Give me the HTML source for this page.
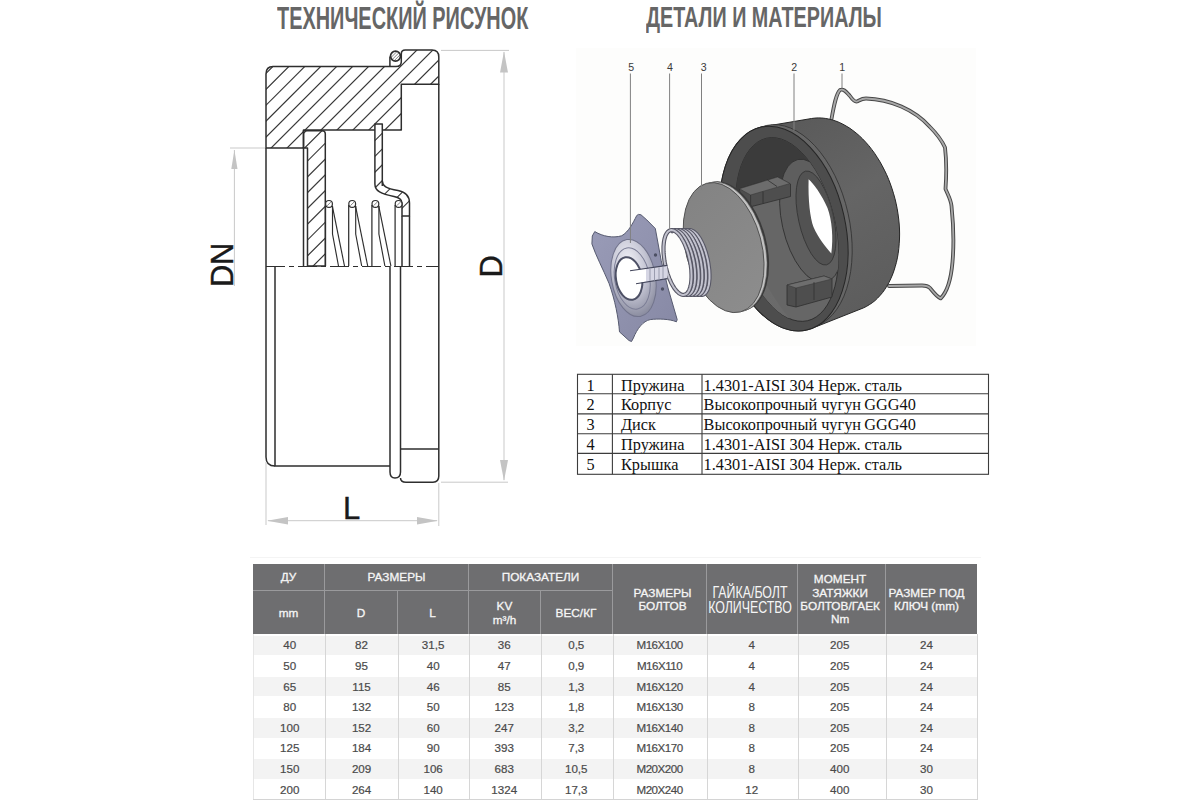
<!DOCTYPE html>
<html><head><meta charset="utf-8">
<style>
html,body{margin:0;padding:0;background:#fff;}
body{width:1200px;height:800px;position:relative;overflow:hidden;font-family:"Liberation Sans",sans-serif;}
.title{position:absolute;font-family:"Liberation Sans",sans-serif;font-weight:bold;color:#666;font-size:30px;white-space:nowrap;transform-origin:0 0;line-height:1;}
svg.full{position:absolute;left:0;top:0;}
.pt{position:absolute;left:577.5px;width:411px;font-family:"Liberation Serif",serif;font-size:16.3px;color:#111;}
.pt span{position:absolute;top:1.5px;white-space:nowrap;}
.ptbox{position:absolute;left:577.5px;top:374.3px;width:411px;height:100px;}
.srow{position:absolute;left:253px;width:724px;}
.sc{position:absolute;text-align:center;font-size:11.6px;color:#4a4a4a;-webkit-text-stroke:0.2px #4a4a4a;white-space:nowrap;}
.vl{position:absolute;width:1px;background:#d6d6d6;}
.hd{position:absolute;background:#6e6e70;left:253px;top:564px;width:724px;height:70px;}
.hc{position:absolute;text-align:center;color:#f6f6f6;-webkit-text-stroke:0.3px #f6f6f6;font-size:11.8px;line-height:13.4px;display:flex;align-items:center;justify-content:center;box-sizing:border-box;padding-top:2px;}
.hv{position:absolute;width:1px;background:#9a9a9c;}
.hh{position:absolute;height:1px;background:#9a9a9c;}
</style></head><body>
<div class="title" style="left:277px;top:3px;font-size:31px;transform:scaleX(0.642)">ТЕХНИЧЕСКИЙ РИСУНОК</div>
<div class="title" style="left:645.5px;top:2px;transform:scaleX(0.6585)">ДЕТАЛИ И МАТЕРИАЛЫ</div>
<div style="position:absolute;left:576px;top:48px;width:400px;height:298px;background:#fdfdfc"></div>
<svg class="full" width="1200" height="800" viewBox="0 0 1200 800">
<defs>
<clipPath id="cb"><path d="M266 148 L266 74 Q266 66.6 273 66.6 L396 66.6 Q401.3 66.6 401.3 61.8 L401.3 54 Q401.3 50.1 405.2 50.1 L432 50.1 Q438.8 50.1 438.8 57 L438.8 84.2 L401.3 84.2 L401.3 130 L303.5 130 L303.5 148 Z"/></clipPath>
<clipPath id="cd"><path d="M303.5 130.8 L322 130.8 Q325.3 130.8 325.3 134 L325.3 266 L307.5 266 L307.5 148 L303.5 148 Z"/></clipPath>
<clipPath id="cp"><path d="M374.9 123.9 L382.3 123.9 L382.3 181 C382.5 186 386 188.5 398 190.5 C406 192 409.5 196 409.5 203 L409.5 216.1 L402 216.1 L402 203 C402 199 399 197.5 394 196.5 C381 194 374.9 191 374.9 184 Z"/></clipPath>
<clipPath id="co"><circle cx="395.5" cy="56.1" r="5"/></clipPath>
</defs>
<path d="M123.55 152.00L232.55 43.00M139.50 152.00L248.50 43.00M155.45 152.00L264.45 43.00M171.40 152.00L280.40 43.00M187.35 152.00L296.35 43.00M203.30 152.00L312.30 43.00M219.25 152.00L328.25 43.00M235.20 152.00L344.20 43.00M251.15 152.00L360.15 43.00M267.10 152.00L376.10 43.00M283.05 152.00L392.05 43.00M299.00 152.00L408.00 43.00M314.95 152.00L423.95 43.00M330.90 152.00L439.90 43.00M346.85 152.00L455.85 43.00M362.80 152.00L471.80 43.00M378.75 152.00L487.75 43.00M394.70 152.00L503.70 43.00M410.65 152.00L519.65 43.00M426.60 152.00L535.60 43.00M442.55 152.00L551.55 43.00M458.50 152.00L567.50 43.00M474.45 152.00L583.45 43.00" clip-path="url(#cb)" stroke="#3a3a3a" stroke-width="1.2" fill="none"/>
<path d="M133.30 272.00L279.30 126.00M149.10 272.00L295.10 126.00M164.90 272.00L310.90 126.00M180.70 272.00L326.70 126.00M196.50 272.00L342.50 126.00M212.30 272.00L358.30 126.00M228.10 272.00L374.10 126.00M243.90 272.00L389.90 126.00M259.70 272.00L405.70 126.00M275.50 272.00L421.50 126.00M291.30 272.00L437.30 126.00M307.10 272.00L453.10 126.00M322.90 272.00L468.90 126.00M338.70 272.00L484.70 126.00M354.50 272.00L500.50 126.00" clip-path="url(#cd)" stroke="#3a3a3a" stroke-width="1.2" fill="none"/>
<path d="M366.50 66.00L386.50 46.00M369.70 66.00L389.70 46.00M372.90 66.00L392.90 46.00M376.10 66.00L396.10 46.00M379.30 66.00L399.30 46.00M382.50 66.00L402.50 46.00M385.70 66.00L405.70 46.00M388.90 66.00L408.90 46.00M392.10 66.00L412.10 46.00M395.30 66.00L415.30 46.00M398.50 66.00L418.50 46.00M401.70 66.00L421.70 46.00M404.90 66.00L424.90 46.00M408.10 66.00L428.10 46.00" clip-path="url(#co)" stroke="#2e2e2e" stroke-width="0.6" fill="none"/>
<path d="M266 148 L266 74 Q266 66.6 273 66.6 L396 66.6 Q401.3 66.6 401.3 61.8 L401.3 54 Q401.3 50.1 405.2 50.1 L432 50.1 Q438.8 50.1 438.8 57 L438.8 84.2 L401.3 84.2 L401.3 130 L303.5 130 L303.5 148 Z" fill="none" stroke="#2e2e2e" stroke-width="1.5" stroke-linejoin="round"/>
<path d="M303.5 130.8 L322 130.8 Q325.3 130.8 325.3 134 L325.3 266 L307.5 266 L307.5 148 L303.5 148 Z" fill="none" stroke="#2e2e2e" stroke-width="1.5" stroke-linejoin="round"/>
<circle cx="395.5" cy="56.1" r="5" fill="none" stroke="#2e2e2e" stroke-width="1.7"/>
<path d="M389.9 56.4 L389.9 66.6" fill="none" stroke="#2e2e2e" stroke-width="1.5" stroke-linejoin="round"/>
<path d="M374.9 123.9 L382.3 123.9 L382.3 181 C382.5 186 386 188.5 398 190.5 C406 192 409.5 196 409.5 203 L409.5 216.1 L402 216.1 L402 203 C402 199 399 197.5 394 196.5 C381 194 374.9 191 374.9 184 Z" fill="#fff"/>
<path d="M246.10 222.00L350.10 118.00M261.90 222.00L365.90 118.00M277.70 222.00L381.70 118.00M293.50 222.00L397.50 118.00M309.30 222.00L413.30 118.00M325.10 222.00L429.10 118.00M340.90 222.00L444.90 118.00M356.70 222.00L460.70 118.00M372.50 222.00L476.50 118.00M388.30 222.00L492.30 118.00M404.10 222.00L508.10 118.00M419.90 222.00L523.90 118.00M435.70 222.00L539.70 118.00" clip-path="url(#cp)" stroke="#3a3a3a" stroke-width="1.1" fill="none"/>
<path d="M374.9 123.9 L382.3 123.9 L382.3 181 C382.5 186 386 188.5 398 190.5 C406 192 409.5 196 409.5 203 L409.5 216.1 L402 216.1 L402 203 C402 199 399 197.5 394 196.5 C381 194 374.9 191 374.9 184 Z" fill="none" stroke="#2e2e2e" stroke-width="1.5" stroke-linejoin="round"/>
<path d="M266 148 L266 457 Q266 466 275 466" fill="none" stroke="#2e2e2e" stroke-width="1.5" stroke-linejoin="round"/>
<path d="M275 266 L275 466 L390 466" fill="none" stroke="#2e2e2e" stroke-width="1.5" stroke-linejoin="round"/>
<path d="M390 266 L390 472 Q390 478 395 478 Q400.5 478 400.5 472 L400.5 266" fill="none" stroke="#2e2e2e" stroke-width="1.5" stroke-linejoin="round"/>
<path d="M400.5 478 Q400.5 482.2 406 482.2 L433 482.2 Q438.8 482.2 438.8 476 L438.8 84" fill="none" stroke="#2e2e2e" stroke-width="1.5" stroke-linejoin="round"/>
<path d="M400.8 449 L438.8 449" fill="none" stroke="#2e2e2e" stroke-width="1.5" stroke-linejoin="round"/>
<path d="M303.5 148 L303.5 266" fill="none" stroke="#2e2e2e" stroke-width="1.5" stroke-linejoin="round"/>
<path d="M382.3 181 L382.3 186" fill="none" stroke="#2e2e2e" stroke-width="1.5" stroke-linejoin="round"/>
<path d="M402 216.1 L402 266" fill="none" stroke="#2e2e2e" stroke-width="1.5" stroke-linejoin="round"/>
<path d="M409.5 216.1 L409.5 266" fill="none" stroke="#2e2e2e" stroke-width="1.5" stroke-linejoin="round"/>
<line x1="325.5" y1="204.9" x2="325.5" y2="266" stroke="#2e2e2e" stroke-width="1.25"/>
<path d="M332.5 205.9 L332.5 234 L338.5 266" fill="none" stroke="#2e2e2e" stroke-width="1.15"/>
<line x1="332.3" y1="205.9" x2="344.5" y2="266" stroke="#2e2e2e" stroke-width="1.15"/>
<circle cx="329" cy="203.9" r="3.4" fill="#fff" stroke="#2e2e2e" stroke-width="1.2"/>
<line x1="327.2" y1="205.70000000000002" x2="330.8" y2="202.1" stroke="#2e2e2e" stroke-width="0.6"/>
<line x1="348.7" y1="204.9" x2="348.7" y2="266" stroke="#2e2e2e" stroke-width="1.25"/>
<path d="M355.7 205.9 L355.7 234 L361.7 266" fill="none" stroke="#2e2e2e" stroke-width="1.15"/>
<line x1="355.5" y1="205.9" x2="367.7" y2="266" stroke="#2e2e2e" stroke-width="1.15"/>
<circle cx="352.2" cy="203.9" r="3.4" fill="#fff" stroke="#2e2e2e" stroke-width="1.2"/>
<line x1="350.4" y1="205.70000000000002" x2="354.0" y2="202.1" stroke="#2e2e2e" stroke-width="0.6"/>
<line x1="371.9" y1="204.9" x2="371.9" y2="266" stroke="#2e2e2e" stroke-width="1.25"/>
<path d="M378.9 205.9 L378.9 234 L384.9 266" fill="none" stroke="#2e2e2e" stroke-width="1.15"/>
<line x1="378.7" y1="205.9" x2="390.9" y2="266" stroke="#2e2e2e" stroke-width="1.15"/>
<circle cx="375.4" cy="203.9" r="3.4" fill="#fff" stroke="#2e2e2e" stroke-width="1.2"/>
<line x1="373.59999999999997" y1="205.70000000000002" x2="377.2" y2="202.1" stroke="#2e2e2e" stroke-width="0.6"/>
<line x1="395.1" y1="204.9" x2="395.1" y2="266" stroke="#2e2e2e" stroke-width="1.25"/>
<circle cx="398.6" cy="203.9" r="3.4" fill="#fff" stroke="#2e2e2e" stroke-width="1.2"/>
<line x1="396.8" y1="205.70000000000002" x2="400.40000000000003" y2="202.1" stroke="#2e2e2e" stroke-width="0.6"/>
<line x1="266" y1="266.5" x2="439" y2="266.5" stroke="#2e2e2e" stroke-width="1.2" stroke-dasharray="19 4 5 4"/>
<path d="M230 148 L265 148" stroke="#c9c9c9" stroke-width="1" fill="none"/>
<path d="M234.4 150 L234.4 286" stroke="#c9c9c9" stroke-width="1" fill="none"/>
<path d="M441 50.4 L509 50.4" stroke="#c9c9c9" stroke-width="1" fill="none"/>
<path d="M441 482.2 L508 482.2" stroke="#c9c9c9" stroke-width="1" fill="none"/>
<path d="M504 52 L504 480" stroke="#c9c9c9" stroke-width="1" fill="none"/>
<path d="M266 462 L266 525" stroke="#c9c9c9" stroke-width="1" fill="none"/>
<path d="M438.8 483 L438.8 526" stroke="#c9c9c9" stroke-width="1" fill="none"/>
<path d="M268 520.7 L437 520.7" stroke="#c9c9c9" stroke-width="1" fill="none"/>
<path d="M234.4 150 L231.3 169 L237.5 169 Z" fill="#c4c4c4"/>
<path d="M504 51.5 L500 72.5 L508 72.5 Z" fill="#c4c4c4"/>
<path d="M504 481 L500 460 L508 460 Z" fill="#c4c4c4"/>
<path d="M267 520.7 L288 517 L288 524.4 Z" fill="#c4c4c4"/>
<path d="M438 520.7 L417 517 L417 524.4 Z" fill="#c4c4c4"/>
<text x="343" y="519" font-family="Liberation Sans" font-size="31" fill="#1a1a1a" stroke="#1a1a1a" stroke-width="0.4">L</text>
<text transform="translate(233.3 287) rotate(-90)" font-family="Liberation Sans" font-size="31" fill="#1a1a1a" stroke="#1a1a1a" stroke-width="0.4" letter-spacing="-0.5">DN</text>
<text transform="translate(501.8 277.5) rotate(-90)" font-family="Liberation Sans" font-size="31" fill="#1a1a1a" stroke="#1a1a1a" stroke-width="0.4">D</text>
<defs>
<linearGradient id="gbody" gradientUnits="userSpaceOnUse" x1="790" y1="120" x2="900" y2="300">
 <stop offset="0" stop-color="#5a5a5a"/><stop offset="0.45" stop-color="#656565"/><stop offset="1" stop-color="#5c5c5c"/>
</linearGradient>
<linearGradient id="gdisc" gradientUnits="userSpaceOnUse" x1="690" y1="190" x2="760" y2="310">
 <stop offset="0" stop-color="#838383"/><stop offset="1" stop-color="#8d8d8d"/>
</linearGradient>
<linearGradient id="gstar" x1="0" y1="0" x2="1" y2="1">
 <stop offset="0" stop-color="#9a9cb8"/><stop offset="1" stop-color="#8688a4"/>
</linearGradient>
<radialGradient id="gring" cx="0.45" cy="0.3" r="0.7">
 <stop offset="0" stop-color="#f2f2f8"/><stop offset="0.6" stop-color="#c0c1d0"/><stop offset="1" stop-color="#8a8c9f"/>
</radialGradient>
<linearGradient id="glow" gradientUnits="userSpaceOnUse" x1="750" y1="240" x2="820" y2="320">
 <stop offset="0" stop-color="#6e6e6e"/><stop offset="1" stop-color="#686868"/>
</linearGradient>
<clipPath id="copen"><ellipse cx="787" cy="229.5" rx="48.5" ry="93.5" transform="rotate(-12.6 787 229.5)" /></clipPath>
</defs>
<path d="M831.5 119 C834 105 836 94 840 90 C844 88 847 93 850 96 C852 99 854 102 857 101.5 C860 100 862 98.5 866 98.5 C890 99 915 110 930 127 C937 134 942 141 945 147.5 C946.5 160 946.5 175 945.5 189 C948 195 951 200 951.5 206 C953.5 225 954 245 952.5 262 C951 280 947 292 940.7 298.4 C937 297 934 293 930 288 C928 286 926 285.5 922 285.5 L889 286" fill="none" stroke="#484848" stroke-width="3.8" stroke-linecap="round" stroke-linejoin="round"/>
<path d="M831.5 119 C834 105 836 94 840 90 C844 88 847 93 850 96 C852 99 854 102 857 101.5 C860 100 862 98.5 866 98.5 C890 99 915 110 930 127 C937 134 942 141 945 147.5 C946.5 160 946.5 175 945.5 189 C948 195 951 200 951.5 206 C953.5 225 954 245 952.5 262 C951 280 947 292 940.7 298.4 C937 297 934 293 930 288 C928 286 926 285.5 922 285.5 L889 286" fill="none" stroke="#a8a8a8" stroke-width="1.8" stroke-linecap="round" stroke-linejoin="round"/>
<path d="M863.2 308.0 L812.6 328.1 L809.6 329.3 L806.5 330.1 L803.3 330.7 L800.1 330.9 L796.8 330.9 L793.5 330.7 L790.2 330.1 L786.8 329.3 L783.5 328.2 L780.1 326.8 L776.8 325.1 L773.4 323.2 L770.1 321.0 L766.9 318.6 L763.7 315.9 L760.5 313.0 L757.4 309.9 L754.4 306.5 L751.4 302.9 L748.6 299.1 L745.8 295.1 L743.2 291.0 L740.6 286.6 L738.2 282.1 L735.9 277.5 L733.7 272.7 L731.7 267.8 L729.8 262.8 L728.1 257.7 L726.5 252.6 L725.1 247.3 L723.8 242.0 L722.7 236.7 L721.7 231.3 L721.0 226.0 L720.4 220.6 L720.0 215.3 L719.7 210.0 L719.6 204.8 L719.7 199.6 L720.0 194.5 L720.5 189.5 L721.1 184.6 L721.9 179.8 L722.9 175.2 L724.0 170.7 L725.3 166.3 L726.8 162.2 L728.4 158.2 L730.2 154.4 L732.1 150.8 L734.1 147.4 L736.3 144.3 L738.7 141.3 L741.1 138.7 L743.7 136.2 L746.4 134.0 L749.1 132.1 L752.0 130.5 L755.0 129.1 L758.0 127.9 L761.1 127.1 L764.3 126.5 L811.5 118.5 L814.8 118.1 L818.2 117.9 L821.7 118.0 L825.2 118.4 L828.7 119.0 L832.2 119.9 L835.7 121.0 L839.2 122.4 L842.7 124.1 L846.1 126.0 L849.6 128.1 L852.9 130.5 L856.2 133.1 L859.5 135.9 L862.7 139.0 L865.8 142.3 L868.8 145.7 L871.7 149.4 L874.5 153.2 L877.1 157.2 L879.7 161.3 L882.1 165.6 L884.4 170.1 L886.6 174.6 L888.6 179.3 L890.4 184.0 L892.1 188.9 L893.6 193.8 L895.0 198.8 L896.2 203.8 L897.2 208.8 L898.0 213.9 L898.7 219.0 L899.2 224.0 L899.5 229.0 L899.6 234.0 L899.5 239.0 L899.2 243.8 L898.8 248.6 L898.2 253.3 L897.4 257.9 L896.4 262.4 L895.2 266.7 L893.9 270.9 L892.4 275.0 L890.7 278.9 L888.9 282.6 L886.9 286.1 L884.8 289.4 L882.6 292.5 L880.1 295.4 L877.6 298.1 L875.0 300.6 L872.2 302.8 L869.3 304.7 L866.3 306.5Z" fill="url(#gbody)" stroke="#262626" stroke-width="1"/>
<ellipse cx="789" cy="226.5" rx="60.5" ry="103.5" transform="rotate(-12.6 789 226.5)" fill="#666" stroke="#333" stroke-width="0.8"/>
<ellipse cx="783.8" cy="228.6" rx="61.5" ry="104" transform="rotate(-12.6 783.8 228.6)" fill="#4d4d4d" stroke="#262626" stroke-width="1"/>
<ellipse cx="787" cy="229.5" rx="48.5" ry="93.5" transform="rotate(-12.6 787 229.5)" fill="#666" stroke="#2a2a2a" stroke-width="0.8"/>
<g clip-path="url(#copen)">
<path d="M700 120 L850 120 L850 172 L800 178 L760 186 L735 198 L715 215 L700 230 Z" fill="#3b3b3b"/>
<path d="M735 198 C745 250 770 300 800 330 L760 340 L720 330 L712 220 Z" fill="url(#glow)"/>
<ellipse cx="811.5" cy="221" rx="29.5" ry="63" transform="rotate(-12.6 811.5 221)" fill="#5e5e5e" stroke="#333" stroke-width="0.9"/>
<ellipse cx="816" cy="218" rx="17.5" ry="48" transform="rotate(-12.6 816 218)" fill="#525252" stroke="#383838" stroke-width="0.9"/>
<path d="M808.6 179.3 C813 183 822 195 827.5 208 C832 220 833.5 238 831.3 253.5 C826 247 818 238 813.5 227 C810 218 808 200 808.6 179.3 Z" fill="#ffffff"/>
</g>
<path d="M739.4 188.75 L777.5 177 L788.75 183 L790.5 184 L790.5 196.5 L750.6 206.8 L741 200.5 Z" fill="#4e4e4e" stroke="#2e2e2e" stroke-width="0.8"/>
<path d="M739.4 188.75 L777.5 177 L790 183.5 L750.6 195 Z" fill="#6c6c6c" stroke="#3a3a3a" stroke-width="0.6"/>
<path d="M763 191.5 L763 203.5 M767.5 180 L777 186.5" stroke="#2e2e2e" stroke-width="0.8" fill="none"/>
<path d="M750.6 195 L750.6 206.8" stroke="#2e2e2e" stroke-width="0.7"/>
<path d="M787 285 L824 276 L832 279 L832 297 L796 307 L787 305 Z" fill="#4e4e4e" stroke="#2e2e2e" stroke-width="0.8"/>
<path d="M787 285 L824 276 L832 279 L796 288 Z" fill="#6e6e6e" stroke="#3a3a3a" stroke-width="0.6"/>
<line x1="814" y1="282" x2="814" y2="300" stroke="#2e2e2e" stroke-width="0.7"/>
<line x1="796" y1="288" x2="796" y2="307" stroke="#2e2e2e" stroke-width="0.7"/>
<ellipse cx="728.6" cy="246.4" rx="38" ry="66.5" transform="rotate(-14.8 728.6 246.4)" fill="#3a3a3a"/>
<ellipse cx="726.6" cy="246.9" rx="38" ry="66.5" transform="rotate(-14.8 726.6 246.9)" fill="#c2c2c2" stroke="#555" stroke-width="0.5"/>
<ellipse cx="723.6" cy="247.6" rx="38" ry="66.5" transform="rotate(-14.8 723.6 247.6)" fill="url(#gdisc)" stroke="#505050" stroke-width="0.9"/>
<path d="M686.6 231.2 L687.4 230.7 L688.3 230.3 L689.1 230.1 L690.0 230.1 L691.0 230.3 L691.9 230.6 L692.9 231.1 L693.9 231.7 L694.9 232.5 L695.9 233.4 L696.9 234.5 L697.9 235.8 L698.8 237.1 L699.8 238.6 L700.7 240.3 L701.6 242.0 L702.5 243.8 L703.4 245.8 L704.2 247.8 L704.9 249.9 L705.7 252.0 L706.3 254.2 L706.9 256.5 L707.5 258.8 L708.0 261.1 L708.4 263.4 L708.7 265.7 L709.0 267.9 L709.3 270.2 L709.4 272.4 L709.5 274.6 L709.5 276.7 L709.5 278.7 L709.3 280.7 L709.1 282.6 L708.9 284.3 L708.5 286.0 L708.1 287.5 L707.7 288.9 L707.1 290.2 L706.5 291.3 L705.9 292.3 L705.2 293.1 L704.5 293.8 L703.7 294.3 L702.8 294.7 L702.0 294.8 L701.1 294.9 L700.1 294.7" fill="none" stroke="#585866" stroke-width="4.2" stroke-linecap="round"/>
<path d="M686.6 231.2 L687.4 230.7 L688.3 230.3 L689.1 230.1 L690.0 230.1 L691.0 230.3 L691.9 230.6 L692.9 231.1 L693.9 231.7 L694.9 232.5 L695.9 233.4 L696.9 234.5 L697.9 235.8 L698.8 237.1 L699.8 238.6 L700.7 240.3 L701.6 242.0 L702.5 243.8 L703.4 245.8 L704.2 247.8 L704.9 249.9 L705.7 252.0 L706.3 254.2 L706.9 256.5 L707.5 258.8 L708.0 261.1 L708.4 263.4 L708.7 265.7 L709.0 267.9 L709.3 270.2 L709.4 272.4 L709.5 274.6 L709.5 276.7 L709.5 278.7 L709.3 280.7 L709.1 282.6 L708.9 284.3 L708.5 286.0 L708.1 287.5 L707.7 288.9 L707.1 290.2 L706.5 291.3 L705.9 292.3 L705.2 293.1 L704.5 293.8 L703.7 294.3 L702.8 294.7 L702.0 294.8 L701.1 294.9 L700.1 294.7" fill="none" stroke="#c2c2ce" stroke-width="2" stroke-linecap="round"/>
<path d="M683.0 231.2 L683.8 230.7 L684.7 230.3 L685.5 230.1 L686.4 230.1 L687.4 230.3 L688.3 230.6 L689.3 231.1 L690.3 231.7 L691.3 232.5 L692.3 233.4 L693.3 234.5 L694.3 235.8 L695.2 237.1 L696.2 238.6 L697.1 240.3 L698.0 242.0 L698.9 243.8 L699.8 245.8 L700.6 247.8 L701.3 249.9 L702.1 252.0 L702.7 254.2 L703.3 256.5 L703.9 258.8 L704.4 261.1 L704.8 263.4 L705.1 265.7 L705.4 267.9 L705.7 270.2 L705.8 272.4 L705.9 274.6 L705.9 276.7 L705.9 278.7 L705.7 280.7 L705.5 282.6 L705.3 284.3 L704.9 286.0 L704.5 287.5 L704.1 288.9 L703.5 290.2 L702.9 291.3 L702.3 292.3 L701.6 293.1 L700.9 293.8 L700.1 294.3 L699.2 294.7 L698.4 294.8 L697.5 294.9 L696.5 294.7" fill="none" stroke="#585866" stroke-width="4.2" stroke-linecap="round"/>
<path d="M683.0 231.2 L683.8 230.7 L684.7 230.3 L685.5 230.1 L686.4 230.1 L687.4 230.3 L688.3 230.6 L689.3 231.1 L690.3 231.7 L691.3 232.5 L692.3 233.4 L693.3 234.5 L694.3 235.8 L695.2 237.1 L696.2 238.6 L697.1 240.3 L698.0 242.0 L698.9 243.8 L699.8 245.8 L700.6 247.8 L701.3 249.9 L702.1 252.0 L702.7 254.2 L703.3 256.5 L703.9 258.8 L704.4 261.1 L704.8 263.4 L705.1 265.7 L705.4 267.9 L705.7 270.2 L705.8 272.4 L705.9 274.6 L705.9 276.7 L705.9 278.7 L705.7 280.7 L705.5 282.6 L705.3 284.3 L704.9 286.0 L704.5 287.5 L704.1 288.9 L703.5 290.2 L702.9 291.3 L702.3 292.3 L701.6 293.1 L700.9 293.8 L700.1 294.3 L699.2 294.7 L698.4 294.8 L697.5 294.9 L696.5 294.7" fill="none" stroke="#c2c2ce" stroke-width="2" stroke-linecap="round"/>
<path d="M679.4 231.2 L680.2 230.7 L681.1 230.3 L681.9 230.1 L682.8 230.1 L683.8 230.3 L684.7 230.6 L685.7 231.1 L686.7 231.7 L687.7 232.5 L688.7 233.4 L689.7 234.5 L690.7 235.8 L691.6 237.1 L692.6 238.6 L693.5 240.3 L694.4 242.0 L695.3 243.8 L696.2 245.8 L697.0 247.8 L697.7 249.9 L698.5 252.0 L699.1 254.2 L699.7 256.5 L700.3 258.8 L700.8 261.1 L701.2 263.4 L701.5 265.7 L701.8 267.9 L702.1 270.2 L702.2 272.4 L702.3 274.6 L702.3 276.7 L702.3 278.7 L702.1 280.7 L701.9 282.6 L701.7 284.3 L701.3 286.0 L700.9 287.5 L700.5 288.9 L699.9 290.2 L699.3 291.3 L698.7 292.3 L698.0 293.1 L697.3 293.8 L696.5 294.3 L695.6 294.7 L694.8 294.8 L693.9 294.9 L692.9 294.7" fill="none" stroke="#585866" stroke-width="4.2" stroke-linecap="round"/>
<path d="M679.4 231.2 L680.2 230.7 L681.1 230.3 L681.9 230.1 L682.8 230.1 L683.8 230.3 L684.7 230.6 L685.7 231.1 L686.7 231.7 L687.7 232.5 L688.7 233.4 L689.7 234.5 L690.7 235.8 L691.6 237.1 L692.6 238.6 L693.5 240.3 L694.4 242.0 L695.3 243.8 L696.2 245.8 L697.0 247.8 L697.7 249.9 L698.5 252.0 L699.1 254.2 L699.7 256.5 L700.3 258.8 L700.8 261.1 L701.2 263.4 L701.5 265.7 L701.8 267.9 L702.1 270.2 L702.2 272.4 L702.3 274.6 L702.3 276.7 L702.3 278.7 L702.1 280.7 L701.9 282.6 L701.7 284.3 L701.3 286.0 L700.9 287.5 L700.5 288.9 L699.9 290.2 L699.3 291.3 L698.7 292.3 L698.0 293.1 L697.3 293.8 L696.5 294.3 L695.6 294.7 L694.8 294.8 L693.9 294.9 L692.9 294.7" fill="none" stroke="#c2c2ce" stroke-width="2" stroke-linecap="round"/>
<path d="M675.8 231.2 L676.6 230.7 L677.5 230.3 L678.3 230.1 L679.2 230.1 L680.2 230.3 L681.1 230.6 L682.1 231.1 L683.1 231.7 L684.1 232.5 L685.1 233.4 L686.1 234.5 L687.1 235.8 L688.0 237.1 L689.0 238.6 L689.9 240.3 L690.8 242.0 L691.7 243.8 L692.6 245.8 L693.4 247.8 L694.1 249.9 L694.9 252.0 L695.5 254.2 L696.1 256.5 L696.7 258.8 L697.2 261.1 L697.6 263.4 L697.9 265.7 L698.2 267.9 L698.5 270.2 L698.6 272.4 L698.7 274.6 L698.7 276.7 L698.7 278.7 L698.5 280.7 L698.3 282.6 L698.1 284.3 L697.7 286.0 L697.3 287.5 L696.9 288.9 L696.3 290.2 L695.7 291.3 L695.1 292.3 L694.4 293.1 L693.7 293.8 L692.9 294.3 L692.0 294.7 L691.2 294.8 L690.3 294.9 L689.3 294.7" fill="none" stroke="#585866" stroke-width="4.2" stroke-linecap="round"/>
<path d="M675.8 231.2 L676.6 230.7 L677.5 230.3 L678.3 230.1 L679.2 230.1 L680.2 230.3 L681.1 230.6 L682.1 231.1 L683.1 231.7 L684.1 232.5 L685.1 233.4 L686.1 234.5 L687.1 235.8 L688.0 237.1 L689.0 238.6 L689.9 240.3 L690.8 242.0 L691.7 243.8 L692.6 245.8 L693.4 247.8 L694.1 249.9 L694.9 252.0 L695.5 254.2 L696.1 256.5 L696.7 258.8 L697.2 261.1 L697.6 263.4 L697.9 265.7 L698.2 267.9 L698.5 270.2 L698.6 272.4 L698.7 274.6 L698.7 276.7 L698.7 278.7 L698.5 280.7 L698.3 282.6 L698.1 284.3 L697.7 286.0 L697.3 287.5 L696.9 288.9 L696.3 290.2 L695.7 291.3 L695.1 292.3 L694.4 293.1 L693.7 293.8 L692.9 294.3 L692.0 294.7 L691.2 294.8 L690.3 294.9 L689.3 294.7" fill="none" stroke="#c2c2ce" stroke-width="2" stroke-linecap="round"/>
<path d="M672.2 231.2 L673.0 230.7 L673.9 230.3 L674.7 230.1 L675.6 230.1 L676.6 230.3 L677.5 230.6 L678.5 231.1 L679.5 231.7 L680.5 232.5 L681.5 233.4 L682.5 234.5 L683.5 235.8 L684.4 237.1 L685.4 238.6 L686.3 240.3 L687.2 242.0 L688.1 243.8 L689.0 245.8 L689.8 247.8 L690.5 249.9 L691.3 252.0 L691.9 254.2 L692.5 256.5 L693.1 258.8 L693.6 261.1 L694.0 263.4 L694.3 265.7 L694.6 267.9 L694.9 270.2 L695.0 272.4 L695.1 274.6 L695.1 276.7 L695.1 278.7 L694.9 280.7 L694.7 282.6 L694.5 284.3 L694.1 286.0 L693.7 287.5 L693.3 288.9 L692.7 290.2 L692.1 291.3 L691.5 292.3 L690.8 293.1 L690.1 293.8 L689.3 294.3 L688.4 294.7 L687.6 294.8 L686.7 294.9 L685.7 294.7" fill="none" stroke="#585866" stroke-width="4.2" stroke-linecap="round"/>
<path d="M672.2 231.2 L673.0 230.7 L673.9 230.3 L674.7 230.1 L675.6 230.1 L676.6 230.3 L677.5 230.6 L678.5 231.1 L679.5 231.7 L680.5 232.5 L681.5 233.4 L682.5 234.5 L683.5 235.8 L684.4 237.1 L685.4 238.6 L686.3 240.3 L687.2 242.0 L688.1 243.8 L689.0 245.8 L689.8 247.8 L690.5 249.9 L691.3 252.0 L691.9 254.2 L692.5 256.5 L693.1 258.8 L693.6 261.1 L694.0 263.4 L694.3 265.7 L694.6 267.9 L694.9 270.2 L695.0 272.4 L695.1 274.6 L695.1 276.7 L695.1 278.7 L694.9 280.7 L694.7 282.6 L694.5 284.3 L694.1 286.0 L693.7 287.5 L693.3 288.9 L692.7 290.2 L692.1 291.3 L691.5 292.3 L690.8 293.1 L690.1 293.8 L689.3 294.3 L688.4 294.7 L687.6 294.8 L686.7 294.9 L685.7 294.7" fill="none" stroke="#c2c2ce" stroke-width="2" stroke-linecap="round"/>
<path d="M689.7 259.9 L690.2 262.5 L690.7 265.0 L691.0 267.6 L691.3 270.1 L691.4 272.6 L691.5 275.0 L691.5 277.4 L691.4 279.6 L691.2 281.7 L691.0 283.7 L690.6 285.6 L690.2 287.3 L689.6 288.9 L689.1 290.3 L688.4 291.5 L687.7 292.6 L686.9 293.4 L686.0 294.1 L685.1 294.6 L684.1 294.8 L683.1 294.9 L682.1 294.7 L681.0 294.4 L679.9 293.8 L678.8 293.1 L677.7 292.1 L676.6 291.0 L675.5 289.7 L674.4 288.2 L673.3 286.5 L672.3 284.7 L671.2 282.8 L670.3 280.7 L669.3 278.5 L668.5 276.2 L667.6 273.9 L666.9 271.4 L666.2 268.9 L665.6 266.4 L665.0 263.8 L664.5 261.2 L664.2 258.7 L663.9 256.1 L663.6 253.6 L663.5 251.2 L663.5 248.8 L663.5 246.5 L663.7 244.3 L663.9 242.3 L664.2 240.3 L664.6 238.5 L665.1 236.9 L665.6 235.4 L666.3 234.0 L667.0 232.9 L667.7 232.0 L668.6 231.2 L669.5 230.6 L670.4 230.3 L671.4 230.1 L672.4 230.2 L673.5 230.4 L674.5 230.9 L675.6 231.5 L676.7 232.4 L677.9 233.4 L679.0 234.7 L680.1 236.1 L681.2 237.6 L682.2 239.4 L683.3 241.2 L684.3 243.2 L685.2 245.4 L686.1 247.6 L687.0 249.9 L687.8 252.3 L688.5 254.8 L689.1 257.3 L689.7 259.9Z" fill="none" stroke="#585866" stroke-width="4.2" stroke-linecap="round"/>
<path d="M689.7 259.9 L690.2 262.5 L690.7 265.0 L691.0 267.6 L691.3 270.1 L691.4 272.6 L691.5 275.0 L691.5 277.4 L691.4 279.6 L691.2 281.7 L691.0 283.7 L690.6 285.6 L690.2 287.3 L689.6 288.9 L689.1 290.3 L688.4 291.5 L687.7 292.6 L686.9 293.4 L686.0 294.1 L685.1 294.6 L684.1 294.8 L683.1 294.9 L682.1 294.7 L681.0 294.4 L679.9 293.8 L678.8 293.1 L677.7 292.1 L676.6 291.0 L675.5 289.7 L674.4 288.2 L673.3 286.5 L672.3 284.7 L671.2 282.8 L670.3 280.7 L669.3 278.5 L668.5 276.2 L667.6 273.9 L666.9 271.4 L666.2 268.9 L665.6 266.4 L665.0 263.8 L664.5 261.2 L664.2 258.7 L663.9 256.1 L663.6 253.6 L663.5 251.2 L663.5 248.8 L663.5 246.5 L663.7 244.3 L663.9 242.3 L664.2 240.3 L664.6 238.5 L665.1 236.9 L665.6 235.4 L666.3 234.0 L667.0 232.9 L667.7 232.0 L668.6 231.2 L669.5 230.6 L670.4 230.3 L671.4 230.1 L672.4 230.2 L673.5 230.4 L674.5 230.9 L675.6 231.5 L676.7 232.4 L677.9 233.4 L679.0 234.7 L680.1 236.1 L681.2 237.6 L682.2 239.4 L683.3 241.2 L684.3 243.2 L685.2 245.4 L686.1 247.6 L687.0 249.9 L687.8 252.3 L688.5 254.8 L689.1 257.3 L689.7 259.9Z" fill="none" stroke="#c2c2ce" stroke-width="2" stroke-linecap="round"/>
<path d="M594.75 231.6 C603 236.5 613 238.3 621.75 235.75 C628.5 232 633 223 636.75 215.5 L638.5 214.4 L641 214.8 L646.9 220 L655.3 228.5 L661.2 260.6 L668 288 L677.2 319.6 L676.4 321.8 C670 319 658 318.5 650.2 319.6 C643 321 637 329 633.4 338 L631.5 341.5 L629 340.5 L619.5 331.9 C618.5 318 615 300 609 283.3 C603 269 596 256 591.9 243.9 L592.3 236 Z" fill="url(#gstar)" stroke="#575b70" stroke-width="1"/>
<ellipse cx="633.5" cy="278" rx="22" ry="39" transform="rotate(-10 633.5 278)" fill="url(#gring)" stroke="#72748c" stroke-width="1"/>
<ellipse cx="632.2" cy="278.5" rx="17.5" ry="31" transform="rotate(-10 632.2 278.5)" fill="none" stroke="#7c7e96" stroke-width="1"/>
<path d="M630 270.7 L667.3 265.4 L667.3 278.6 L636 283.8 Z" fill="#d6d6e4"/>
<ellipse cx="629" cy="278.5" rx="13" ry="21.5" transform="rotate(-10 629 278.5)" fill="#ffffff" stroke="#4e5166" stroke-width="2"/>
<path d="M631.5 270.5 L646 268.5 L646 281.5 L637 283.5 Z" fill="#ffffff"/>
<path d="M630 270.7 L667.3 265.4 M636 283.8 L667.3 278.6" stroke="#44475c" stroke-width="1.1" fill="none"/>
<path d="M650 268.5 L650 281 M654.5 268 L654.5 280.5 M659 267.3 L659 279.8 M663 266.7 L663 279.2" stroke="#9a9cae" stroke-width="1" fill="none"/>
<circle cx="655.5" cy="255" r="1.7" fill="#4d5064"/><circle cx="662.5" cy="289" r="1.7" fill="#4d5064"/>
<line x1="630.4" y1="73.5" x2="630.4" y2="243" stroke="#808080" stroke-width="1"/>
<text x="631.2" y="71.3" text-anchor="middle" font-family="Liberation Sans" font-size="10.6" fill="#3a3a3a">5</text>
<line x1="669.6" y1="73.5" x2="669.6" y2="229" stroke="#808080" stroke-width="1"/>
<text x="669.9" y="71.3" text-anchor="middle" font-family="Liberation Sans" font-size="10.6" fill="#3a3a3a">4</text>
<line x1="701.5" y1="73.5" x2="701.5" y2="190" stroke="#808080" stroke-width="1"/>
<text x="703.8" y="71.3" text-anchor="middle" font-family="Liberation Sans" font-size="10.6" fill="#3a3a3a">3</text>
<line x1="794" y1="73.5" x2="794" y2="130.5" stroke="#808080" stroke-width="1"/>
<text x="794.2" y="71.3" text-anchor="middle" font-family="Liberation Sans" font-size="10.6" fill="#3a3a3a">2</text>
<line x1="842" y1="73.5" x2="842" y2="88.4" stroke="#808080" stroke-width="1"/>
<text x="842.2" y="71.3" text-anchor="middle" font-family="Liberation Sans" font-size="10.6" fill="#3a3a3a">1</text>
</svg>
<div class="pt" style="top:374.3px;height:19.5px;line-height:19.5px"><span style="left:9.0px">1</span><span style="left:43.5px">Пружина</span><span style="left:126.1px">1.4301-AISI 304 Нерж. сталь</span></div>
<div class="pt" style="top:393.8px;height:20.1px;line-height:20.1px"><span style="left:9.0px">2</span><span style="left:43.5px">Корпус</span><span style="left:126.1px">Высокопрочный чугун&#8201;GGG40</span></div>
<div class="pt" style="top:413.9px;height:19.8px;line-height:19.8px"><span style="left:9.0px">3</span><span style="left:43.5px">Диск</span><span style="left:126.1px">Высокопрочный чугун&#8201;GGG40</span></div>
<div class="pt" style="top:433.7px;height:19.7px;line-height:19.7px"><span style="left:9.0px">4</span><span style="left:43.5px">Пружина</span><span style="left:126.1px">1.4301-AISI 304 Нерж. сталь</span></div>
<div class="pt" style="top:453.4px;height:20.9px;line-height:20.9px"><span style="left:9.0px">5</span><span style="left:43.5px">Крышка</span><span style="left:126.1px">1.4301-AISI 304 Нерж. сталь</span></div>
<svg class="full" width="1200" height="800" viewBox="0 0 1200 800">
<g stroke="#3c3c3c" stroke-width="1.1" fill="none">
<rect x="577.5" y="374.3" width="411" height="100"/>
<line x1="612.4" y1="374.3" x2="612.4" y2="474.3"/>
<line x1="702" y1="374.3" x2="702" y2="474.3"/>
<line x1="577.5" y1="393.8" x2="988.5" y2="393.8"/>
<line x1="577.5" y1="413.9" x2="988.5" y2="413.9"/>
<line x1="577.5" y1="433.7" x2="988.5" y2="433.7"/>
<line x1="577.5" y1="453.4" x2="988.5" y2="453.4"/>
</g>
</svg>
<div style="position:absolute;left:250px;top:557px;width:731px;height:1px;background:#f4f4f4"></div>
<div class="hd"></div>
<div class="hv" style="left:324px;top:564px;height:70px"></div>
<div class="hv" style="left:396.5px;top:591px;height:43px"></div>
<div class="hv" style="left:468px;top:564px;height:70px"></div>
<div class="hv" style="left:539.5px;top:591px;height:43px"></div>
<div class="hv" style="left:612px;top:564px;height:70px"></div>
<div class="hv" style="left:705.5px;top:564px;height:70px"></div>
<div class="hv" style="left:797px;top:564px;height:70px"></div>
<div class="hv" style="left:884.5px;top:564px;height:70px"></div>
<div class="hh" style="left:253px;top:590px;width:359px"></div>
<div class="hc" style="left:253px;top:564px;width:71px;height:26px">ДУ</div>
<div class="hc" style="left:325px;top:564px;width:143px;height:26px">РАЗМЕРЫ</div>
<div class="hc" style="left:469px;top:564px;width:143px;height:26px">ПОКАЗАТЕЛИ</div>
<div class="hc" style="left:253px;top:591px;width:71px;height:43px">mm</div>
<div class="hc" style="left:325px;top:591px;width:72px;height:43px">D</div>
<div class="hc" style="left:397px;top:591px;width:71px;height:43px">L</div>
<div class="hc" style="left:469px;top:591px;width:71px;height:43px">KV<br>m³/h</div>
<div class="hc" style="left:540px;top:591px;width:72px;height:43px">ВЕС/КГ</div>
<div class="hc" style="left:616px;top:564px;width:93px;height:70px">РАЗМЕРЫ<br>БОЛТОВ</div>
<div style="position:absolute;left:704.5px;top:584.6px;width:91px;text-align:center;color:#f6f6f6;font-size:16.5px;line-height:15.4px;"><span style="position:absolute;left:50%;top:0;transform:translateX(-50%) scaleX(0.75);white-space:nowrap;text-align:center">ГАЙКА/БОЛТ<br>КОЛИЧЕСТВО</span></div>
<div class="hc" style="left:796.6px;top:564px;width:87px;height:70px">МОМЕНТ<br>ЗАТЯЖКИ<br>БОЛТОВ/ГАЕК<br>Nm</div>
<div class="hc" style="left:880.5px;top:564px;width:92px;height:70px">РАЗМЕР ПОД<br>КЛЮЧ (mm)</div>
<div class="srow" style="top:635.60px;height:19.60px;background:#f3f3f3"></div>
<div class="sc" style="left:254px;width:71.5px;top:635.40px;height:20.60px;line-height:20.60px">40</div>
<div class="sc" style="left:325.3px;width:72.5px;top:635.40px;height:20.60px;line-height:20.60px">82</div>
<div class="sc" style="left:397.4px;width:71.5px;top:635.40px;height:20.60px;line-height:20.60px">31,5</div>
<div class="sc" style="left:468.5px;width:71.5px;top:635.40px;height:20.60px;line-height:20.60px">36</div>
<div class="sc" style="left:540px;width:72.5px;top:635.40px;height:20.60px;line-height:20.60px">0,5</div>
<div class="sc" style="letter-spacing:-0.5px;left:612.8px;width:93.5px;top:635.40px;height:20.60px;line-height:20.60px">M16X100</div>
<div class="sc" style="left:706px;width:91.5px;top:635.40px;height:20.60px;line-height:20.60px">4</div>
<div class="sc" style="left:796.0px;width:87.5px;top:635.40px;height:20.60px;line-height:20.60px">205</div>
<div class="sc" style="left:880.5px;width:92px;top:635.40px;height:20.60px;line-height:20.60px">24</div>
<div class="srow" style="top:656.20px;height:19.60px;background:#ffffff"></div>
<div class="sc" style="left:254px;width:71.5px;top:656.00px;height:20.60px;line-height:20.60px">50</div>
<div class="sc" style="left:325.3px;width:72.5px;top:656.00px;height:20.60px;line-height:20.60px">95</div>
<div class="sc" style="left:397.4px;width:71.5px;top:656.00px;height:20.60px;line-height:20.60px">40</div>
<div class="sc" style="left:468.5px;width:71.5px;top:656.00px;height:20.60px;line-height:20.60px">47</div>
<div class="sc" style="left:540px;width:72.5px;top:656.00px;height:20.60px;line-height:20.60px">0,9</div>
<div class="sc" style="letter-spacing:-0.5px;left:612.8px;width:93.5px;top:656.00px;height:20.60px;line-height:20.60px">M16X110</div>
<div class="sc" style="left:706px;width:91.5px;top:656.00px;height:20.60px;line-height:20.60px">4</div>
<div class="sc" style="left:796.0px;width:87.5px;top:656.00px;height:20.60px;line-height:20.60px">205</div>
<div class="sc" style="left:880.5px;width:92px;top:656.00px;height:20.60px;line-height:20.60px">24</div>
<div class="srow" style="top:676.80px;height:19.60px;background:#f3f3f3"></div>
<div class="sc" style="left:254px;width:71.5px;top:676.60px;height:20.60px;line-height:20.60px">65</div>
<div class="sc" style="left:325.3px;width:72.5px;top:676.60px;height:20.60px;line-height:20.60px">115</div>
<div class="sc" style="left:397.4px;width:71.5px;top:676.60px;height:20.60px;line-height:20.60px">46</div>
<div class="sc" style="left:468.5px;width:71.5px;top:676.60px;height:20.60px;line-height:20.60px">85</div>
<div class="sc" style="left:540px;width:72.5px;top:676.60px;height:20.60px;line-height:20.60px">1,3</div>
<div class="sc" style="letter-spacing:-0.5px;left:612.8px;width:93.5px;top:676.60px;height:20.60px;line-height:20.60px">M16X120</div>
<div class="sc" style="left:706px;width:91.5px;top:676.60px;height:20.60px;line-height:20.60px">4</div>
<div class="sc" style="left:796.0px;width:87.5px;top:676.60px;height:20.60px;line-height:20.60px">205</div>
<div class="sc" style="left:880.5px;width:92px;top:676.60px;height:20.60px;line-height:20.60px">24</div>
<div class="srow" style="top:697.40px;height:19.60px;background:#ffffff"></div>
<div class="sc" style="left:254px;width:71.5px;top:697.20px;height:20.60px;line-height:20.60px">80</div>
<div class="sc" style="left:325.3px;width:72.5px;top:697.20px;height:20.60px;line-height:20.60px">132</div>
<div class="sc" style="left:397.4px;width:71.5px;top:697.20px;height:20.60px;line-height:20.60px">50</div>
<div class="sc" style="left:468.5px;width:71.5px;top:697.20px;height:20.60px;line-height:20.60px">123</div>
<div class="sc" style="left:540px;width:72.5px;top:697.20px;height:20.60px;line-height:20.60px">1,8</div>
<div class="sc" style="letter-spacing:-0.5px;left:612.8px;width:93.5px;top:697.20px;height:20.60px;line-height:20.60px">M16X130</div>
<div class="sc" style="left:706px;width:91.5px;top:697.20px;height:20.60px;line-height:20.60px">8</div>
<div class="sc" style="left:796.0px;width:87.5px;top:697.20px;height:20.60px;line-height:20.60px">205</div>
<div class="sc" style="left:880.5px;width:92px;top:697.20px;height:20.60px;line-height:20.60px">24</div>
<div class="srow" style="top:718.00px;height:19.60px;background:#f3f3f3"></div>
<div class="sc" style="left:254px;width:71.5px;top:717.80px;height:20.60px;line-height:20.60px">100</div>
<div class="sc" style="left:325.3px;width:72.5px;top:717.80px;height:20.60px;line-height:20.60px">152</div>
<div class="sc" style="left:397.4px;width:71.5px;top:717.80px;height:20.60px;line-height:20.60px">60</div>
<div class="sc" style="left:468.5px;width:71.5px;top:717.80px;height:20.60px;line-height:20.60px">247</div>
<div class="sc" style="left:540px;width:72.5px;top:717.80px;height:20.60px;line-height:20.60px">3,2</div>
<div class="sc" style="letter-spacing:-0.5px;left:612.8px;width:93.5px;top:717.80px;height:20.60px;line-height:20.60px">M16X140</div>
<div class="sc" style="left:706px;width:91.5px;top:717.80px;height:20.60px;line-height:20.60px">8</div>
<div class="sc" style="left:796.0px;width:87.5px;top:717.80px;height:20.60px;line-height:20.60px">205</div>
<div class="sc" style="left:880.5px;width:92px;top:717.80px;height:20.60px;line-height:20.60px">24</div>
<div class="srow" style="top:738.60px;height:19.60px;background:#ffffff"></div>
<div class="sc" style="left:254px;width:71.5px;top:738.40px;height:20.60px;line-height:20.60px">125</div>
<div class="sc" style="left:325.3px;width:72.5px;top:738.40px;height:20.60px;line-height:20.60px">184</div>
<div class="sc" style="left:397.4px;width:71.5px;top:738.40px;height:20.60px;line-height:20.60px">90</div>
<div class="sc" style="left:468.5px;width:71.5px;top:738.40px;height:20.60px;line-height:20.60px">393</div>
<div class="sc" style="left:540px;width:72.5px;top:738.40px;height:20.60px;line-height:20.60px">7,3</div>
<div class="sc" style="letter-spacing:-0.5px;left:612.8px;width:93.5px;top:738.40px;height:20.60px;line-height:20.60px">M16X170</div>
<div class="sc" style="left:706px;width:91.5px;top:738.40px;height:20.60px;line-height:20.60px">8</div>
<div class="sc" style="left:796.0px;width:87.5px;top:738.40px;height:20.60px;line-height:20.60px">205</div>
<div class="sc" style="left:880.5px;width:92px;top:738.40px;height:20.60px;line-height:20.60px">24</div>
<div class="srow" style="top:759.20px;height:19.60px;background:#f3f3f3"></div>
<div class="sc" style="left:254px;width:71.5px;top:759.00px;height:20.60px;line-height:20.60px">150</div>
<div class="sc" style="left:325.3px;width:72.5px;top:759.00px;height:20.60px;line-height:20.60px">209</div>
<div class="sc" style="left:397.4px;width:71.5px;top:759.00px;height:20.60px;line-height:20.60px">106</div>
<div class="sc" style="left:468.5px;width:71.5px;top:759.00px;height:20.60px;line-height:20.60px">683</div>
<div class="sc" style="left:540px;width:72.5px;top:759.00px;height:20.60px;line-height:20.60px">10,5</div>
<div class="sc" style="letter-spacing:-0.5px;left:612.8px;width:93.5px;top:759.00px;height:20.60px;line-height:20.60px">M20X200</div>
<div class="sc" style="left:706px;width:91.5px;top:759.00px;height:20.60px;line-height:20.60px">8</div>
<div class="sc" style="left:796.0px;width:87.5px;top:759.00px;height:20.60px;line-height:20.60px">400</div>
<div class="sc" style="left:880.5px;width:92px;top:759.00px;height:20.60px;line-height:20.60px">30</div>
<div class="srow" style="top:779.80px;height:19.60px;background:#ffffff"></div>
<div class="sc" style="left:254px;width:71.5px;top:779.60px;height:20.60px;line-height:20.60px">200</div>
<div class="sc" style="left:325.3px;width:72.5px;top:779.60px;height:20.60px;line-height:20.60px">264</div>
<div class="sc" style="left:397.4px;width:71.5px;top:779.60px;height:20.60px;line-height:20.60px">140</div>
<div class="sc" style="left:468.5px;width:71.5px;top:779.60px;height:20.60px;line-height:20.60px">1324</div>
<div class="sc" style="left:540px;width:72.5px;top:779.60px;height:20.60px;line-height:20.60px">17,3</div>
<div class="sc" style="letter-spacing:-0.5px;left:612.8px;width:93.5px;top:779.60px;height:20.60px;line-height:20.60px">M20X240</div>
<div class="sc" style="left:706px;width:91.5px;top:779.60px;height:20.60px;line-height:20.60px">12</div>
<div class="sc" style="left:796.0px;width:87.5px;top:779.60px;height:20.60px;line-height:20.60px">400</div>
<div class="sc" style="left:880.5px;width:92px;top:779.60px;height:20.60px;line-height:20.60px">30</div>
<div class="vl" style="left:325.0px;top:634px;height:166px"></div>
<div class="vl" style="left:397.5px;top:634px;height:166px"></div>
<div class="vl" style="left:469.0px;top:634px;height:166px"></div>
<div class="vl" style="left:540.5px;top:634px;height:166px"></div>
<div class="vl" style="left:613.0px;top:634px;height:166px"></div>
<div class="vl" style="left:706.5px;top:634px;height:166px"></div>
<div class="vl" style="left:798.0px;top:634px;height:166px"></div>
<div class="vl" style="left:885.5px;top:634px;height:166px"></div>
<div class="vl" style="left:253px;top:634px;height:166px;background:#e6e6e6"></div>
<div class="vl" style="left:977px;top:634px;height:166px"></div>
<div style="position:absolute;left:253px;top:799px;width:725px;height:1px;background:#d4d4d4"></div>
</body></html>
